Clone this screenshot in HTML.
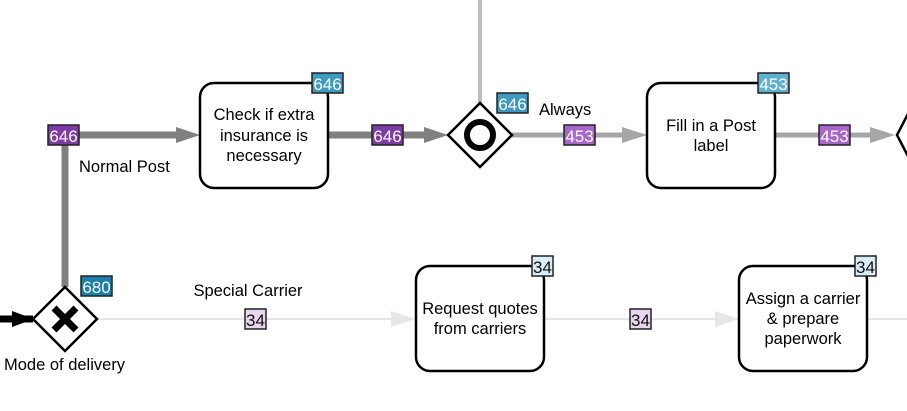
<!DOCTYPE html>
<html><head><meta charset="utf-8"><style>
html,body{margin:0;padding:0;background:#fff;}
svg text{font-family:"Liberation Sans",sans-serif;}
</style></head><body>
<svg width="907" height="406" viewBox="0 0 907 406" xmlns="http://www.w3.org/2000/svg">
<line x1="480" y1="0" x2="480" y2="104" stroke="#bdbdbd" stroke-width="4"/>
<line x1="65" y1="287" x2="65" y2="135" stroke="#808080" stroke-width="7"/>
<line x1="65" y1="135" x2="180" y2="135" stroke="#808080" stroke-width="7"/>
<polygon points="176,127 200,135 176,143" fill="#808080"/>
<line x1="328" y1="135" x2="428" y2="135" stroke="#808080" stroke-width="7"/>
<polygon points="424,127 448,135 424,143" fill="#808080"/>
<line x1="512" y1="135" x2="625" y2="135" stroke="#a6a6a6" stroke-width="5"/>
<polygon points="622,127 647,135 622,143" fill="#a6a6a6"/>
<line x1="775" y1="135" x2="875" y2="135" stroke="#a6a6a6" stroke-width="5"/>
<polygon points="870,127 895,135 870,143" fill="#a6a6a6"/>
<line x1="97" y1="319" x2="395" y2="319" stroke="#e6e6e6" stroke-width="2"/>
<polygon points="391,311 415,319 391,327" fill="#e6e6e6"/>
<line x1="544" y1="319" x2="720" y2="319" stroke="#e6e6e6" stroke-width="2"/>
<polygon points="715,311 739,319 715,327" fill="#e6e6e6"/>
<line x1="867" y1="319" x2="907" y2="319" stroke="#e6e6e6" stroke-width="2"/>
<line x1="0" y1="319" x2="33" y2="319" stroke="#000" stroke-width="7"/>
<polygon points="12,311 34,319 12,327" fill="#000"/>
<rect x="200" y="83" width="128" height="105" rx="14" fill="#fff" stroke="#000" stroke-width="2.5"/>
<rect x="647" y="83" width="128" height="105" rx="14" fill="#fff" stroke="#000" stroke-width="2.5"/>
<rect x="416" y="266" width="128" height="105" rx="14" fill="#fff" stroke="#000" stroke-width="2.5"/>
<rect x="739" y="266" width="128" height="105" rx="14" fill="#fff" stroke="#000" stroke-width="2.5"/>
<g font-size="16.5" text-anchor="middle" fill="#000">
<text x="264" y="120">Check if extra</text><text x="264" y="141">insurance is</text><text x="264" y="161">necessary</text>
<text x="711" y="131">Fill in a Post</text><text x="711" y="151">label</text>
<text x="480" y="314">Request quotes</text><text x="480" y="334">from carriers</text>
<text x="803" y="304">Assign a carrier</text><text x="803" y="324">&amp; prepare</text><text x="803" y="344">paperwork</text>
<text x="248" y="296">Special Carrier</text>
</g>
<g font-size="16.5" fill="#000">
<text x="79" y="172">Normal Post</text>
<text x="4" y="370">Mode of delivery</text>
<text x="539" y="115">Always</text>
</g>
<polygon points="480,103 512,135 480,167 448,135" fill="#fff" stroke="#000" stroke-width="2.5"/>
<circle cx="480" cy="135" r="13" fill="none" stroke="#000" stroke-width="6"/>
<polygon points="65,287 97,319 65,351 33,319" fill="#fff" stroke="#000" stroke-width="2.5"/>
<path d="M54,308 L76,330 M76,308 L54,330" stroke="#000" stroke-width="7"/>
<polygon points="910,110 897,135 910,160" fill="#fff" stroke="#000" stroke-width="2.5"/>
<g stroke="#222" stroke-width="1.5">
<rect x="312" y="73" width="31" height="20" fill="#3d9ac0"/>
<rect x="758" y="73" width="31" height="20" fill="#5fb1d1"/>
<rect x="497" y="93" width="31" height="20" fill="#3d9ac0"/>
<rect x="81" y="276" width="31" height="20" fill="#1a80aa"/>
<rect x="48" y="125" width="31" height="20" fill="#7e3aa6"/>
<rect x="372" y="125" width="31" height="20" fill="#7e3aa6"/>
<rect x="564" y="125" width="31" height="20" fill="#a865cc"/>
<rect x="819" y="125" width="31" height="20" fill="#a865cc"/>
<rect x="532" y="256" width="21" height="20" fill="#d9edf5"/>
<rect x="855" y="256" width="21" height="20" fill="#d9edf5"/>
<rect x="245" y="309" width="21" height="20" fill="#e8d6ef"/>
<rect x="630" y="309" width="21" height="20" fill="#e8d6ef"/>
</g>
<g font-size="17" text-anchor="middle" fill="#fff">
<text x="327.5" y="90">646</text><text x="773.5" y="90">453</text><text x="512.5" y="110">646</text>
<text x="96.5" y="293">680</text><text x="63.5" y="142">646</text><text x="387.5" y="142">646</text>
<text x="579.5" y="142">453</text><text x="834.5" y="142">453</text>
</g>
<g font-size="17" text-anchor="middle" fill="#111">
<text x="542.5" y="273">34</text><text x="865.5" y="273">34</text>
<text x="255.5" y="326">34</text><text x="640.5" y="326">34</text>
</g>
</svg>
</body></html>
